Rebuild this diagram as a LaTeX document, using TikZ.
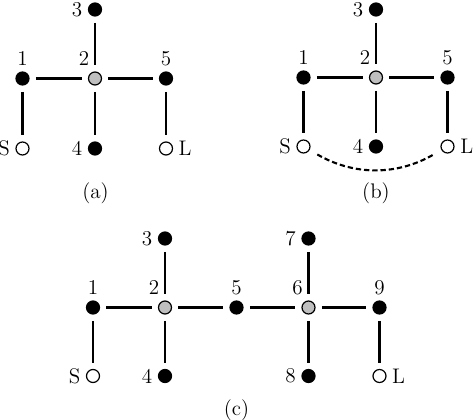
\documentclass[tikz,border=0pt]{standalone}
\usepackage{tikz}
\usetikzlibrary{positioning}
\tikzset{
  dot/.style={circle, draw, fill=black, line width=0.7pt, inner sep=0pt, minimum size=0.26cm},
  hub/.style={dot, fill=black!25},
  port/.style={dot, fill=white},
  link/.style={line width=1.2pt, shorten <=3.5pt, shorten >=3.5pt},
  ret/.style={line width=1.2pt, dash pattern=on 3pt off 1.7pt, shorten <=5pt, shorten >=5pt},
  capt/.style={font=\large}
}

\begin{document}
\begin{tikzpicture}[every label/.style={font=\large, inner sep=2.5pt}, label distance=0.5pt]
  \useasboundingbox (0,0) rectangle (9.48,-8.38);
  % (a)
  \node[dot, label=above:1] (a1) at (0.45,-1.57) {};
  \node[hub, label={[xshift=-0.22cm]above:2}] (a2) at (1.90,-1.57) {};
  \node[dot, label=above:5] (a5) at (3.32,-1.57) {};
  \node[dot, label=left:3] (a3) at (1.90,-0.19) {};
  \node[port, label=left:S] (aS) at (0.45,-2.97) {};
  \node[dot, label=left:4] (a4) at (1.90,-2.97) {};
  \node[port, label=right:L] (aL) at (3.32,-2.97) {};
  \node[capt] (ca) at (1.91,-3.86) {(a)};
  \draw[link] (a1) -- (a2);
  \draw[link] (a2) -- (a5);
  \draw[link] (a3) -- (a2);
  \draw[link] (a2) -- (a4);
  \draw[link] (a1) -- (aS);
  \draw[link] (a5) -- (aL);
  % (b)
  \node[dot, label=above:1] (b1) at (6.07,-1.55) {};
  \node[hub, label={[xshift=-0.22cm]above:2}] (b2) at (7.52,-1.55) {};
  \node[dot, label=above:5] (b5) at (8.95,-1.55) {};
  \node[dot, label=left:3] (b3) at (7.52,-0.19) {};
  \node[port, label=left:S] (bS) at (6.07,-2.93) {};
  \node[dot, label=left:4] (b4) at (7.52,-2.93) {};
  \node[port, label=right:L] (bL) at (8.95,-2.93) {};
  \node[capt] (cb) at (7.52,-3.86) {(b)};
  \draw[link] (b1) -- (b2);
  \draw[link] (b2) -- (b5);
  \draw[link] (b3) -- (b2);
  \draw[link] (b2) -- (b4);
  \draw[link] (b1) -- (bS);
  \draw[link] (b5) -- (bL);
  \draw[ret] (bS) to[bend right=30] (bL);
  % (c)
  \node[dot, label=above:1] (c1) at (1.86,-6.15) {};
  \node[hub, label={[xshift=-0.22cm]above:2}] (c2) at (3.30,-6.15) {};
  \node[dot, label=above:5] (c5) at (4.73,-6.15) {};
  \node[hub, label={[xshift=-0.22cm]above:6}] (c6) at (6.17,-6.15) {};
  \node[dot, label=above:9] (c9) at (7.59,-6.15) {};
  \node[dot, label=left:3] (c3) at (3.30,-4.77) {};
  \node[dot, label=left:7] (c7) at (6.17,-4.77) {};
  \node[port, label=left:S] (cS) at (1.86,-7.52) {};
  \node[dot, label=left:4] (c4) at (3.30,-7.52) {};
  \node[dot, label=left:8] (c8) at (6.17,-7.52) {};
  \node[port, label=right:L] (cL) at (7.59,-7.52) {};
  \node[capt] (cc) at (4.73,-8.2) {(c)};
  \draw[link] (c1) -- (c2);
  \draw[link] (c2) -- (c5);
  \draw[link] (c5) -- (c6);
  \draw[link] (c6) -- (c9);
  \draw[link] (c3) -- (c2);
  \draw[link] (c2) -- (c4);
  \draw[link] (c7) -- (c6);
  \draw[link] (c6) -- (c8);
  \draw[link] (c1) -- (cS);
  \draw[link] (c9) -- (cL);
\end{tikzpicture}
\end{document}
